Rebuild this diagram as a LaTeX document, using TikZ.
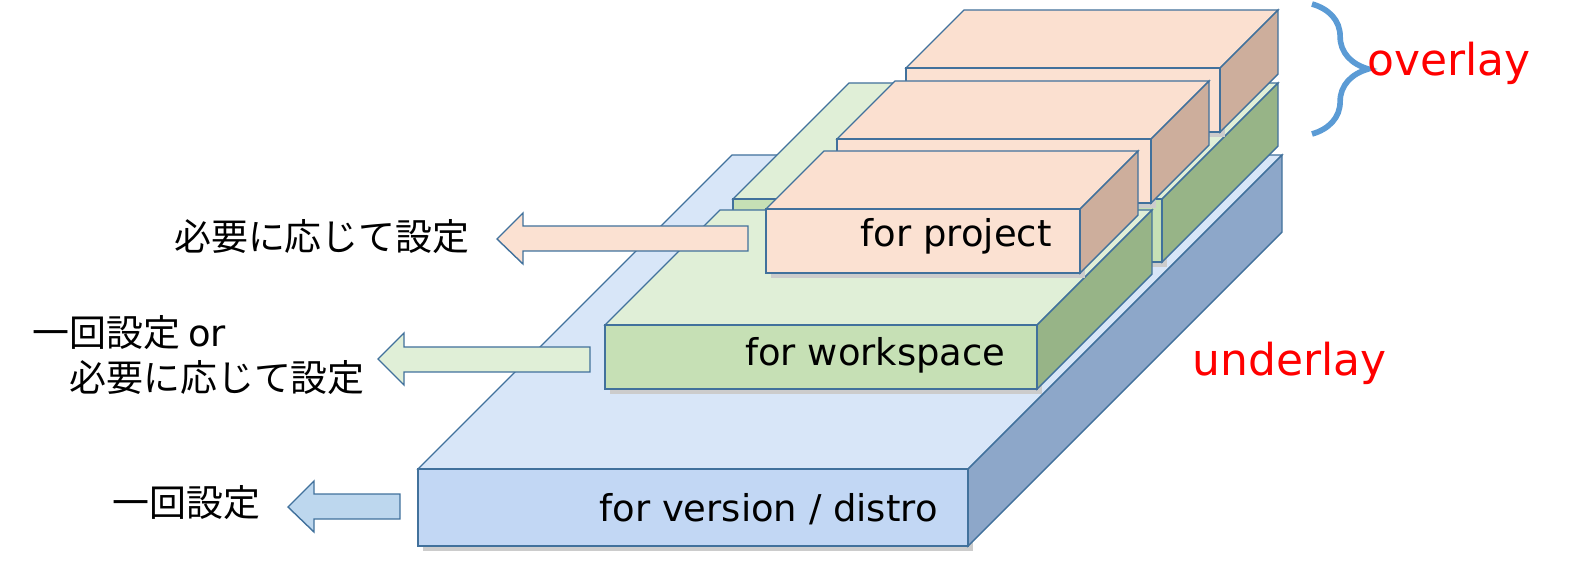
\documentclass[tikz,border=0pt]{standalone}
\usepackage{fontspec}
\setmainfont{Noto Sans CJK JP}
\newfontfamily\lat{DejaVu Sans}
\usetikzlibrary{decorations.pathreplacing}
\definecolor{edge}{HTML}{41719C}
\definecolor{bF}{HTML}{C2D7F4}\definecolor{bT}{HTML}{D8E6F8}\definecolor{bR}{HTML}{8DA7C9}
\definecolor{gF}{HTML}{C6E0B5}\definecolor{gT}{HTML}{E0EFD7}\definecolor{gR}{HTML}{97B487}
\definecolor{oF}{HTML}{FBE1D2}\definecolor{oT}{HTML}{FBE0D0}\definecolor{oR}{HTML}{CDAE9C}
\definecolor{bA}{HTML}{BDD7EE}
\definecolor{brc}{HTML}{5B9BD5}
\newcommand\mycub[8]{% front top right x1 y1 x2 y2 d
 \fill[black!20] (#4+5,#5+5) rectangle (#6+5,#7+5);
 \draw[edge,fill=#2] (#4,#5) -- ++(#8,-#8) -- (#6+#8,#5-#8) -- (#6,#5) -- cycle;
 \draw[edge,fill=#3] (#6,#5) -- (#6+#8,#5-#8) -- (#6+#8,#7-#8) -- (#6,#7) -- cycle;
 \draw[edge,fill=#1] (#4,#5) rectangle (#6,#7);}
\tikzset{lbl/.style={font=\lat\fontsize{10.5}{13}\selectfont,anchor=east},
 jp/.style={font=\fontsize{10.5}{13}\selectfont},
 red/.style={text=red,font=\lat\fontsize{12.5}{15}\selectfont},
 arr/.style={draw=edge}}
\begin{document}
\begin{tikzpicture}[x=0.01cm,y=-0.01cm]
\useasboundingbox (0,0) rectangle (1587,570);
\mycub{bF}{bT}{bR}{418}{469}{968}{546}{314}
\mycub{gF}{gT}{gR}{733}{199}{1162}{262}{116}
\mycub{gF}{gT}{gR}{605}{325}{1037}{389}{115}
\mycub{oF}{oT}{oR}{906}{68}{1220}{132}{58}
\mycub{oF}{oT}{oR}{837}{139}{1151}{203}{58}
\mycub{oF}{oT}{oR}{766}{209}{1080}{273}{58}
\node[lbl] (tp) at (1064,236) {for project};
\node[lbl] (tw) at (1018,355) {for workspace};
\node[lbl] (tv) at (950,509) {for version / distro};
\draw[arr,fill=oF] (748,226) -- (523,226) -- (523,213) -- (497,239) -- (523,264) -- (523,251) -- (748,251) -- cycle;
\draw[arr,fill=gT] (590,347) -- (404,347) -- (404,333) -- (378,359) -- (404,385) -- (404,372) -- (590,372) -- cycle;
\draw[arr,fill=bA] (400,494) -- (314,494) -- (314,481) -- (288,507) -- (314,532) -- (314,519) -- (400,519) -- cycle;
\node[jp,anchor=east] (j1) at (482,237) {必要に応じて設定};
\node[jp,anchor=west] (j2) at (20,333) {一回設定 {\lat or}};
\node[jp,anchor=west] (j3) at (57,378) {必要に応じて設定};
\node[jp,anchor=east] (j4) at (273,503) {一回設定};
\draw[color=brc,line width=1.6pt,decorate,decoration={brace,amplitude=16pt}] (1312,4) -- (1312,134);
\node[red,anchor=west] (ov) at (1355,63) {overlay};
\node[red,anchor=west] (un) at (1180,363) {underlay};
\end{tikzpicture}
\end{document}
